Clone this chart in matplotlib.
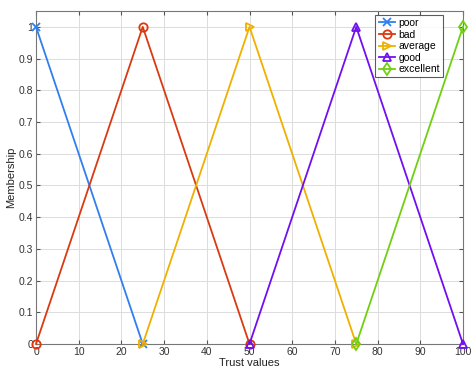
import matplotlib
matplotlib.use("Agg")
import matplotlib.pyplot as plt

labels = ["poor", "bad", "average", "good", "excellent"]
xs = [[0, 25], [0, 25, 50], [25, 50, 75], [50, 75, 100], [75, 100]]
ys = [[1, 0], [0, 1, 0], [0, 1, 0], [0, 1, 0], [0, 1]]
markers = ["x", "o", ">", "^", "d"]
colors = ["#2f7fef", "#d93a10", "#f0b000", "#7010f0", "#70d010"]

xticks = list(range(0, 101, 10))
yticks = [i / 10 for i in range(11)]
yticklabels = ["0", "0.1", "0.2", "0.3", "0.4", "0.5", "0.6", "0.7", "0.8", "0.9", "1"]

plt.rcParams['font.family'] = ['Liberation Sans', 'DejaVu Sans']
fig = plt.figure(figsize=(4.74, 3.79), dpi=100)
ax = fig.add_axes([36 / 474, 1 - 344 / 379, 427 / 474, 333 / 379])

for x, y, m, c, l in zip(xs, ys, markers, colors, labels):
    ax.plot(x, y, color=c, marker=m, markersize=6, mfc="none", mew=1.3, lw=1.3, label=l, clip_on=False, zorder=3)

ax.set_xlim(0, 100)
ax.set_ylim(0, 1.05)
ax.set_xticks(xticks)
ax.set_yticks(yticks)
ax.set_yticklabels(yticklabels)
ax.grid(True, color="#dcdcdc", lw=0.7)
ax.set_axisbelow(True)
ax.tick_params(direction="in", top=True, right=True, labelsize=7.5, length=3, color="#555555",
               labelcolor="#333333", pad=2)
for s in ax.spines.values():
    s.set_color("#777777")
    s.set_linewidth(0.8)
ax.set_xlabel("Trust values", fontsize=8, labelpad=1, color="#222222")
ax.set_ylabel("Membership", fontsize=8, labelpad=2, color="#222222")

leg = ax.legend(loc="upper right", bbox_to_anchor=(0.953, 0.988), fontsize=7.5, frameon=True, fancybox=False,
                edgecolor="#333333", borderpad=0.3, labelspacing=0.15, handlelength=1.6, handletextpad=0.3,
                borderaxespad=0.0)
leg.get_frame().set_linewidth(0.8)

fig.savefig("out.png", dpi=100)
